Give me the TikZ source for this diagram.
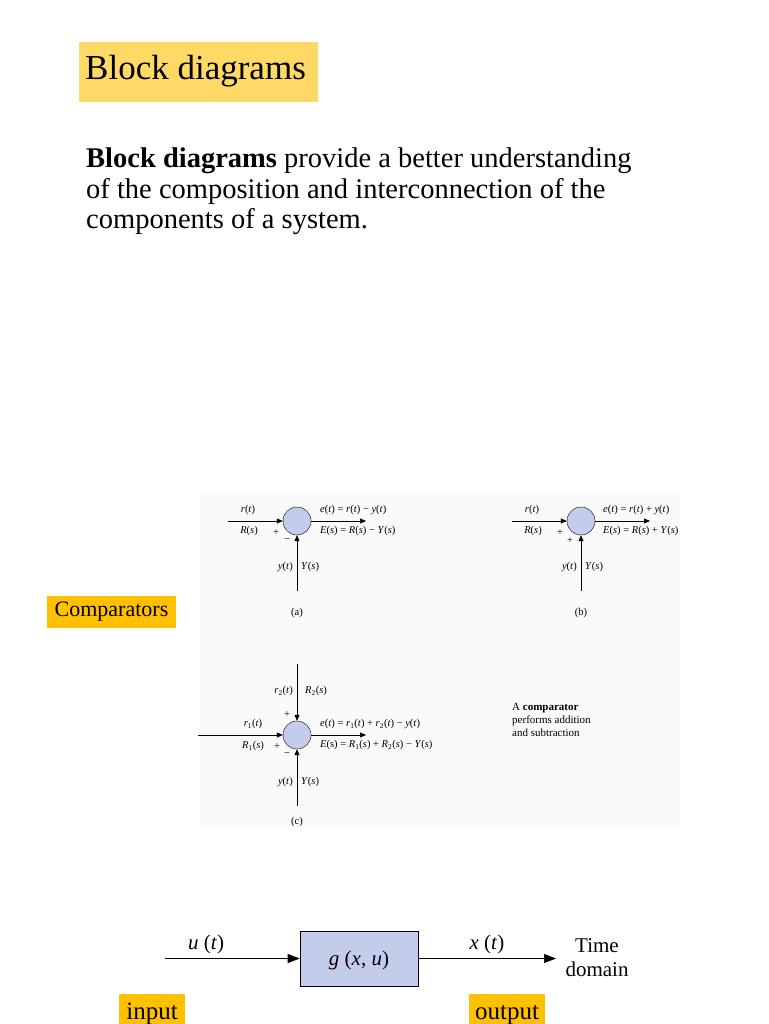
\documentclass[tikz,border=0pt]{standalone}
\usepackage{fontspec}
\setmainfont{Liberation Serif}
\usetikzlibrary{arrows.meta}
\definecolor{titley}{HTML}{FFD966}
\definecolor{labo}{HTML}{FFC000}
\definecolor{cfill}{HTML}{C3CCEA}
\newcommand{\iv}[1]{\textit{#1}}
\begin{document}
\begin{tikzpicture}[x=1pt,y=-1pt,
  sm/.style={font=\fontsize{10.5}{12}\selectfont,inner sep=1pt},
  cmp/.style={circle,draw,fill=cfill,minimum size=28pt,inner sep=0pt},
  sig/.style={-{Triangle[length=6pt,width=5pt]},line width=0.6pt},
  big/.style={font=\fontsize{21}{24}\selectfont},
  tag/.style={fill=labo,font=\fontsize{22}{24}\selectfont,inner sep=0pt}]
\path[use as bounding box,fill=white] (0,0) rectangle (768,1024);
\fill[black!2] (200,492) rectangle (680,826);
% title
\node[fill=titley,minimum width=239pt,minimum height=60pt,anchor=north west,inner sep=0pt] (title) at (79,42) {};
\node[anchor=west,font=\fontsize{35}{37}\selectfont,inner sep=0pt] (tt) at (85,71) {Block diagrams};
\node[anchor=north west,align=left,font=\fontsize{28.5}{30.5}\selectfont,inner sep=0pt] (para) at (86,148)
 {\textbf{Block diagrams} provide a better understanding\\of the composition and interconnection of the\\components of a system.};
\node[tag,minimum width=129pt,minimum height=32pt] (comps) at (111.5,612) {Comparators};
% (a)
\node[cmp] (ca) at (297,521) {};
\coordinate (ain) at (228,521); \coordinate (aout) at (366,521); \coordinate (abot) at (297,591);
\draw[sig] (ain) -- (ca);
\draw[sig] (ca) -- (aout);
\draw[sig] (abot) -- (ca);
\node[sm] (a1) at (248,510) {\iv{r}(\iv{t})};
\node[sm] (a2) at (249,531) {\iv{R}(\iv{s})};
\node[sm] (a3) at (276,533) {+};
\node[sm] (a4) at (287,541) {−};
\node[sm,anchor=west] (a5) at (319,510) {\iv{e}(\iv{t}) = \iv{r}(\iv{t}) − \iv{y}(\iv{t})};
\node[sm,anchor=west] (a6) at (319,531) {\iv{E}(\iv{s}) = \iv{R}(\iv{s}) − \iv{Y}(\iv{s})};
\node[sm,anchor=east] (a7) at (294,567) {\iv{y}(\iv{t})};
\node[sm,anchor=west] (a8) at (300,567) {\iv{Y}(\iv{s})};
\node[sm] (a9) at (297,613) {(a)};
% (b)
\node[cmp] (cb) at (581,521) {};
\coordinate (bin) at (512,521); \coordinate (bout) at (650,521); \coordinate (bbot) at (581,591);
\draw[sig] (bin) -- (cb);
\draw[sig] (cb) -- (bout);
\draw[sig] (bbot) -- (cb);
\node[sm] (b1) at (532,510) {\iv{r}(\iv{t})};
\node[sm] (b2) at (533,531) {\iv{R}(\iv{s})};
\node[sm] (b3) at (560,533) {+};
\node[sm] (b4) at (570,541) {+};
\node[sm,anchor=west] (b5) at (602,510) {\iv{e}(\iv{t}) = \iv{r}(\iv{t}) + \iv{y}(\iv{t})};
\node[sm,anchor=west] (b6) at (602,531) {\iv{E}(\iv{s}) = \iv{R}(\iv{s}) + \iv{Y}(\iv{s})};
\node[sm,anchor=east] (b7) at (578,567) {\iv{y}(\iv{t})};
\node[sm,anchor=west] (b8) at (584,567) {\iv{Y}(\iv{s})};
\node[sm] (b9) at (581,613) {(b)};
% (c)
\node[cmp] (cc) at (297,735) {};
\coordinate (cin) at (198,735); \coordinate (cout) at (366,735);
\coordinate (ctop) at (297,664); \coordinate (cbot) at (297,806);
\draw[sig] (cin) -- (cc);
\draw[sig] (ctop) -- (cc);
\draw[sig] (cc) -- (cout);
\draw[sig] (cbot) -- (cc);
\node[sm,anchor=east] (c1) at (294,691) {\iv{r}\textsubscript{2}(\iv{t})};
\node[sm,anchor=west] (c2) at (304,691) {\iv{R}\textsubscript{2}(\iv{s})};
\node[sm] (c3) at (287,715) {+};
\node[sm] (c4) at (253,724) {\iv{r}\textsubscript{1}(\iv{t})};
\node[sm] (c5) at (253,746) {\iv{R}\textsubscript{1}(\iv{s})};
\node[sm] (c6) at (277,747) {+};
\node[sm] (c7) at (287,755) {−};
\node[sm,anchor=west] (c8) at (319,724) {\iv{e}(\iv{t}) = \iv{r}\textsubscript{1}(\iv{t}) + \iv{r}\textsubscript{2}(\iv{t}) − \iv{y}(\iv{t})};
\node[sm,anchor=west] (c9) at (319,745) {\iv{E}(s) = \iv{R}\textsubscript{1}(\iv{s}) + \iv{R}\textsubscript{2}(\iv{s}) − \iv{Y}(\iv{s})};
\node[sm,anchor=east] (c10) at (294,782) {\iv{y}(\iv{t})};
\node[sm,anchor=west] (c11) at (300,782) {\iv{Y}(\iv{s})};
\node[sm] (c12) at (297,822) {(c)};
\node[anchor=north west,align=left,font=\fontsize{11}{13}\selectfont,inner sep=0pt] (note) at (512,703)
 {A \textbf{comparator}\\performs addition\\and subtraction};
% block
\node[draw,fill=cfill,minimum width=118pt,minimum height=55pt,inner sep=0pt,line width=0.6pt] (g) at (359,958.5) {};
\node[big] (gl) at (359,960) {\iv{g} (\iv{x}, \iv{u})};
\coordinate (uin) at (165,958.5); \coordinate (xout) at (556,958.5);
\draw[sig,-{Triangle[length=12pt,width=9pt]}] (uin) -- (g);
\draw[sig,-{Triangle[length=12pt,width=9pt]}] (g) -- (xout);
\node[big] (ul) at (206,944) {\iv{u} (\iv{t})};
\node[big] (xl) at (487,944) {\iv{x} (\iv{t})};
\node[big,align=center] (td) at (597,958) {Time\\domain};
\fill[labo] (119,994) rectangle (185,1024);
\fill[labo] (469,994) rectangle (545,1024);
\node[anchor=base,font=\fontsize{25}{26}\selectfont,inner sep=0pt] (inp) at (152,1019) {input};
\node[anchor=base,font=\fontsize{25}{26}\selectfont,inner sep=0pt] (outp) at (507,1019) {output};
\end{tikzpicture}
\end{document}
